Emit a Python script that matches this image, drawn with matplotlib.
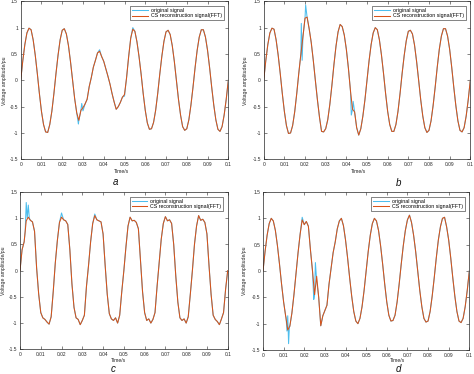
import numpy as np
import matplotlib
matplotlib.use("Agg")
import matplotlib.pyplot as plt

plt.rcParams['font.family'] = ['Liberation Sans', 'DejaVu Sans']

# time axis (s), 1 ms sampling
time_s = np.arange(0, 101) / 1000.0

# ---------- panel a ----------
rec_a = [0.00, 0.37, 0.68, 0.90, 0.99, 0.96, 0.77, 0.48, 0.13, -0.25,
         -0.59, -0.84, -0.98, -0.99, -0.84, -0.59, -0.25, 0.13, 0.48, 0.77,
         0.95, 0.98, 0.88, 0.66, 0.35, 0.00, -0.35, -0.62, -0.76, -0.57,
         -0.52, -0.45, -0.36, -0.12, 0.05, 0.25, 0.38, 0.52, 0.55, 0.45,
         0.36, 0.22, 0.08, -0.07, -0.25, -0.41, -0.55, -0.50, -0.42, -0.32,
         -0.27, 0.05, 0.45, 0.80, 0.97, 0.93, 0.73, 0.45, 0.12, -0.25,
         -0.57, -0.81, -0.93, -0.92, -0.80, -0.57, -0.25, 0.12, 0.46, 0.74,
         0.92, 0.95, 0.87, 0.66, 0.36, 0.00, -0.36, -0.66, -0.88, -0.95,
         -0.92, -0.75, -0.47, -0.13, 0.24, 0.57, 0.82, 0.96, 0.96, 0.82,
         0.57, 0.24, -0.13, -0.47, -0.75, -0.93, -0.97, -0.88, -0.66, -0.36,
         0.00]
orig_a_t = [0.0278, 0.0294, 0.0300, 0.0380, 0.0500, 0.0540]
orig_a_v = [-0.83, -0.44, -0.58, 0.58, -0.30, 1.00]

# ---------- panel b ----------
rec_b = [0.00, 0.37, 0.68, 0.90, 0.99, 0.97, 0.77, 0.48, 0.13, -0.25,
         -0.59, -0.86, -1.01, -1.00, -0.86, -0.60, -0.25, 0.14, 0.50, 0.83,
         1.18, 1.20, 0.98, 0.72, 0.38, 0.00, -0.37, -0.70, -0.97, -0.98,
         -0.92, -0.75, -0.46, -0.10, 0.30, 0.65, 0.92, 1.06, 1.02, 0.86,
         0.59, 0.23, -0.20, -0.55, -0.60, -0.90, -1.04, -0.92, -0.68, -0.37,
         0.00, 0.37, 0.68, 0.90, 1.00, 0.96, 0.77, 0.48, 0.13, -0.25,
         -0.59, -0.84, -0.97, -0.97, -0.84, -0.59, -0.25, 0.13, 0.47, 0.75,
         0.93, 0.95, 0.88, 0.67, 0.36, 0.00, -0.37, -0.68, -0.90, -0.99,
         -0.95, -0.77, -0.48, -0.13, 0.25, 0.59, 0.84, 0.98, 0.98, 0.84,
         0.59, 0.25, -0.13, -0.48, -0.77, -0.95, -0.98, -0.90, -0.68, -0.37,
         0.00]
orig_b_t = [0.0182, 0.0186, 0.0203, 0.0424, 0.0433, 0.0440]
orig_b_v = [1.08, 0.38, 1.43, -0.66, -0.40, -0.60]

# ---------- panel c ----------
rec_c = [0.00, 0.40, 0.55, 0.95, 1.02, 0.96, 0.93, 0.75, 0.05, -0.45,
         -0.80, -0.90, -0.93, -0.98, -1.02, -0.88, -0.40, 0.15, 0.58, 0.92,
         1.02, 0.97, 0.95, 0.88, 0.40, -0.25, -0.70, -0.90, -0.93, -1.03,
         -0.95, -0.85, -0.30, 0.10, 0.55, 0.90, 1.05, 0.97, 0.95, 0.93,
         0.70, 0.10, -0.45, -0.82, -0.92, -0.95, -0.90, -1.00, -0.85, -0.40,
         0.00, 0.45, 0.85, 1.02, 0.95, 0.96, 0.92, 0.80, 0.20, -0.40,
         -0.80, -0.95, -0.92, -1.00, -0.93, -0.80, -0.30, 0.15, 0.60, 0.90,
         1.03, 0.95, 0.97, 0.90, 0.50, -0.10, -0.60, -0.90, -0.95, -0.92,
         -1.00, -0.88, -0.45, 0.00, 0.50, 0.85, 1.05, 0.96, 0.98, 0.92,
         0.70, 0.10, -0.45, -0.85, -0.93, -0.97, -1.03, -0.92, -0.80, -0.35,
         0.00]
orig_c_t = [0.0025, 0.0030, 0.0035, 0.0040, 0.0045, 0.0200, 0.0360]
orig_c_v = [0.75, 1.30, 1.00, 1.25, 1.00, 1.10, 1.08]

# ---------- panel d ----------
rec_d = [0.00, 0.37, 0.68, 0.90, 1.00, 0.95, 0.77, 0.48, 0.13, -0.25,
         -0.59, -0.86, -1.12, -1.05, -0.80, -0.45, -0.05, 0.35, 0.70, 0.97,
         0.88, 0.94, 0.85, 0.40, 0.00, -0.45, -0.10, -0.50, -1.04, -0.85,
         -0.75, -0.65, -0.25, 0.05, 0.35, 0.55, 0.80, 0.95, 1.00, 0.86,
         0.59, 0.25, -0.13, -0.48, -0.77, -0.95, -1.00, -0.90, -0.68, -0.37,
         0.00, 0.37, 0.68, 0.90, 1.00, 0.95, 0.77, 0.48, 0.13, -0.25,
         -0.59, -0.84, -0.95, -0.94, -0.84, -0.59, -0.25, 0.13, 0.48, 0.77,
         0.97, 1.06, 0.92, 0.68, 0.37, 0.00, -0.37, -0.68, -0.90, -0.97,
         -0.95, -0.77, -0.48, -0.13, 0.25, 0.59, 0.84, 1.00, 1.02, 0.84,
         0.59, 0.25, -0.13, -0.48, -0.77, -0.95, -0.98, -0.90, -0.68, -0.37,
         0.00]
orig_d_t = [0.0112, 0.0116, 0.0120, 0.0124, 0.0128, 0.0190, 0.0246, 0.0254, 0.0260]
orig_d_v = [-0.88, -1.14, -0.85, -1.38, -1.05, 1.02, -0.54, 0.16, -0.18]

panel_letters = ['a', 'b', 'c', 'd']
legend_labels = ['original signal', 'CS reconstruction signal(FFT)']
x_ticks = [0, 0.01, 0.02, 0.03, 0.04, 0.05, 0.06, 0.07, 0.08, 0.09, 0.1]
y_ticks = [-1.5, -1, -0.5, 0, 0.5, 1, 1.5]
x_label = 'Time/s'
y_label = 'Voltage amplitude/pu'

ORIG_COLOR = '#4DBEEE'
REC_COLOR = '#D95319'
AX_COLOR = '#262626'

W, H = 474, 374


def merge(t, v, ot, ov):
    t = np.asarray(t)
    v = np.asarray(v)
    ot = np.asarray(ot)
    ov = np.asarray(ov)
    keep = ~np.isin(np.round(t, 4), np.round(ot, 4))
    tt = np.concatenate([t[keep], ot])
    vv = np.concatenate([v[keep], ov])
    order = np.argsort(tt)
    return tt[order], vv[order]


# axes boxes in pixels: left, top, right, bottom
boxes = [(20.7, 1.3, 228.3, 159.3),
         (263.7, 1.3, 470.3, 159.3),
         (20.0, 192.0, 227.7, 349.3),
         (263.0, 192.0, 469.3, 350.0)]
ylabel_x = [5, 246, 4, 244]
xlabel_pos = [(121.7, 171.7), (358.7, 171.7), (118.3, 361.0), (397.0, 361.0)]
letter_pos = [(115, 182), (399, 182.5), (113, 369), (398, 369)]

recs = [rec_a, rec_b, rec_c, rec_d]
origs = [(orig_a_t, orig_a_v), (orig_b_t, orig_b_v),
         (orig_c_t, orig_c_v), (orig_d_t, orig_d_v)]

fig = plt.figure(figsize=(W / 100, H / 100), dpi=100)

for i in range(4):
    l, tp, r, b = boxes[i]
    ax = fig.add_axes([l / W, 1 - b / H, (r - l) / W, (b - tp) / H])
    ot, ov = merge(time_s, recs[i], origs[i][0], origs[i][1])
    ax.plot(ot, ov, color=ORIG_COLOR, lw=0.75, label=legend_labels[0])
    ax.plot(time_s, recs[i], color=REC_COLOR, lw=0.75, label=legend_labels[1])
    ax.set_xlim(0, 0.1)
    ax.set_ylim(-1.5, 1.5)
    ax.set_xticks(x_ticks)
    ax.set_xticklabels(['0', '0.01', '0.02', '0.03', '0.04', '0.05',
                        '0.06', '0.07', '0.08', '0.09', '0.1'])
    ax.set_yticks(y_ticks)
    ax.set_yticklabels(['-1.5', '-1', '-0.5', '0', '0.5', '1', '1.5'])
    ax.tick_params(direction='in', length=2, width=0.4, top=True, right=True,
                   labelsize=3.5, pad=2, colors=AX_COLOR)
    for s in ax.spines.values():
        s.set_linewidth(0.5)
        s.set_color(AX_COLOR)
    leg = ax.legend(loc='upper right', fontsize=3.8, handlelength=2.9,
                    handletextpad=0.6, labelspacing=0.1, borderpad=0.35,
                    borderaxespad=0.9, fancybox=False, framealpha=1,
                    edgecolor=AX_COLOR)
    leg.get_frame().set_linewidth(0.4)
    fig.text(ylabel_x[i] / W, 1 - ((tp + b) / 2) / H, y_label, rotation=90,
             ha='center', va='center', fontsize=3.7, color=AX_COLOR)
    fig.text(xlabel_pos[i][0] / W, 1 - xlabel_pos[i][1] / H, x_label,
             ha='center', va='center', fontsize=3.7, color=AX_COLOR)
    fig.text(letter_pos[i][0] / W, 1 - letter_pos[i][1] / H, panel_letters[i],
             ha='center', va='center', fontsize=7, style='italic',
             color='#111111')

fig.savefig('out.png', dpi=100)
